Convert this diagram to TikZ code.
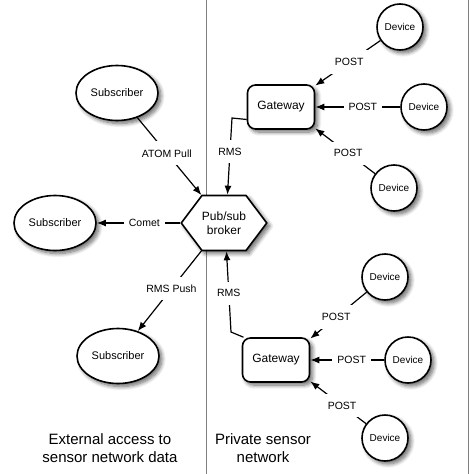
\documentclass[tikz,border=0pt]{standalone}
\usepackage{fontspec}
\setmainfont{Liberation Sans}
\usetikzlibrary{shapes.geometric,shapes.symbols,arrows.meta,shadows.blur}

\begin{document}
\begin{tikzpicture}[x=1pt, y=-1pt,
    shade/.style={blur shadow={shadow blur steps=8, shadow blur radius=4pt, shadow xshift=3pt, shadow yshift=-3pt, shadow opacity=60}},
    subscriber/.style={ellipse, draw, line width=1.6pt, fill=white, shade, minimum width=82pt, minimum height=55pt, inner sep=0pt, font=\fontsize{11}{13}\selectfont},
    device/.style={circle, draw, line width=1.6pt, fill=white, shade, minimum size=46pt, inner sep=0pt, font=\fontsize{10}{12}\selectfont},
    gateway/.style={rectangle, rounded corners=8pt, draw, line width=1.6pt, fill=white, shade, minimum width=67pt, minimum height=44pt, font=\fontsize{12}{14}\selectfont},
    broker/.style={signal, signal to=east and west, signal pointer angle=106, draw, line width=1.6pt, fill=white, shade, minimum width=82pt, minimum height=55pt, inner sep=0pt, align=center, font=\fontsize{12}{14}\selectfont},
    conn/.style={line width=1.2pt, -{Latex[length=9pt,width=7pt]}},
    lbl/.style={fill=white, inner xsep=5pt, inner ysep=8pt, font=\fontsize{10.5}{12}\selectfont},
    side/.style={align=center, font=\fontsize{15}{18}\selectfont}]

\useasboundingbox (0,0) rectangle (474,474);

% dividers
\draw [gray, line width=0.6pt] (206,0) -- (206,474);
\draw [gray, line width=0.6pt] (468,0) -- (468,474);

% broker and subscribers
\node (hub) [broker] at (224,223) {Pub/sub\\broker};
\node (sub1) [subscriber] at (117,93) {Subscriber};
\node (sub2) [subscriber] at (55,223) {Subscriber};
\node (sub3) [subscriber] at (118,356) {Subscriber};

% gateways and devices
\node (gw1) [gateway] at (281,107) {Gateway};
\node (gw2) [gateway] at (276,360) {Gateway};
\node (dev1) [device] at (400,27) {Device};
\node (dev2) [device] at (424,107) {Device};
\node (dev3) [device] at (394,188) {Device};
\node (dev4) [device] at (385,277) {Device};
\node (dev5) [device] at (408,360) {Device};
\node (dev6) [device] at (385,438) {Device};

% external side
\draw [conn] (sub1) -- node [lbl, pos=0.46] {ATOM Pull} (hub.129);
\draw [conn] (hub.west) -- node [lbl, pos=0.43] {Comet} (sub2.east);
\draw [conn] (hub.231) -- node [lbl, pos=0.47] {RMS Push} (sub3);

% private side
\draw [conn] (gw1.200) -- (232,118) -- node [lbl, pos=0.44] {RMS} (hub.83);
\draw [conn] (gw2.145) -- (231,332) -- node [lbl, pos=0.48] {RMS} (hub.275);

\draw [conn] (dev1) -- node [lbl, pos=0.48] {POST} (gw1.32);
\draw [conn] (dev2) -- node [lbl, pos=0.44] {POST} (gw1);
\draw [conn] (dev3) -- node [lbl, pos=0.45] {POST} (gw1.-32);
\draw [conn] (dev4) -- node [lbl, pos=0.54] {POST} (gw2.32);
\draw [conn] (dev5) -- node [lbl, pos=0.44] {POST} (gw2);
\draw [conn] (dev6) -- node [lbl, pos=0.43] {POST} (gw2.-32);

% captions
\node (ext) [side] at (110,448) {External access to\\sensor network data};
\node (priv) [side] at (263,448) {Private sensor\\network};

\end{tikzpicture}
\end{document}
